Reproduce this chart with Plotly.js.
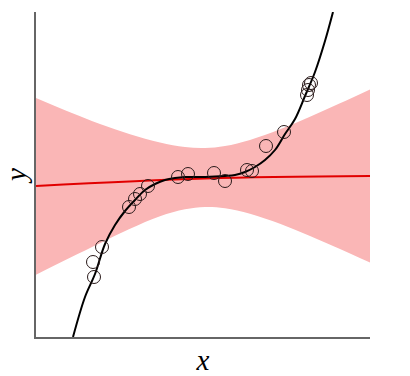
<!DOCTYPE html>
<html>
<head>
<meta charset="utf-8">
<script src="https://cdn.plot.ly/plotly-3.0.1.min.js"></script>
<style>html,body{margin:0;padding:0;background:#fff;}#chart{width:410px;height:376px;}</style>
</head>
<body>
<div id="chart"></div>
<script>
// Observations (open circles)
const pointsX = [-1.11, -1.12, -1.03, -0.76, -0.70, -0.65, -0.57, -0.27, -0.17, 0.09, 0.20, 0.42, 0.47, 0.61, 0.79, 1.02, 1.03, 1.04, 1.06];
const pointsY = [-1.01, -0.86, -0.71, -0.31, -0.23, -0.18, -0.10, -0.01, 0.02, 0.03, -0.05, 0.06, 0.05, 0.30, 0.44, 0.81, 0.86, 0.91, 0.93];

// True function (black curve)
const curveX = [-1.32, -1.2, -1.1, -1.0, -0.9, -0.8, -0.7, -0.6, -0.5, -0.4, -0.3, -0.2, 0.0, 0.2, 0.3, 0.4, 0.5, 0.6, 0.7, 0.8, 0.9, 1.0, 1.1, 1.2, 1.28];
const curveY = [-1.61, -1.21, -0.98, -0.68, -0.49, -0.35, -0.24, -0.14, -0.08, -0.04, -0.02, -0.01, -0.01, 0.0, 0.01, 0.04, 0.09, 0.16, 0.26, 0.42, 0.57, 0.80, 1.04, 1.35, 1.64];

// Fitted mean (red line)
const meanX = [-1.69, 0.0, 1.65];
const meanY = [-0.10, -0.025, 0.0];

// Predictive band
const bandX = [-1.69, -1.35, -1.05, -0.75, -0.45, -0.20, 0.00, 0.20, 0.45, 0.75, 1.05, 1.35, 1.65];
const bandUpper = [0.781, 0.638, 0.520, 0.418, 0.335, 0.289, 0.280, 0.300, 0.361, 0.468, 0.593, 0.727, 0.866];
const bandLower = [-0.987, -0.818, -0.672, -0.528, -0.403, -0.333, -0.310, -0.322, -0.377, -0.478, -0.599, -0.729, -0.866];

const traces = [
  {x: bandX, y: bandUpper, type: 'scatter', mode: 'lines', line: {width: 0, shape: 'spline'}, hoverinfo: 'skip', showlegend: false},
  {x: bandX, y: bandLower, type: 'scatter', mode: 'lines', line: {width: 0, shape: 'spline'}, fill: 'tonexty', fillcolor: 'rgb(250,182,182)', hoverinfo: 'skip', showlegend: false},
  {x: meanX, y: meanY, type: 'scatter', mode: 'lines', line: {color: 'rgb(225,0,0)', width: 2, shape: 'spline'}, showlegend: false},
  {x: curveX, y: curveY, type: 'scatter', mode: 'lines', line: {color: '#000', width: 2, shape: 'spline'}, showlegend: false},
  {x: pointsX, y: pointsY, type: 'scatter', mode: 'markers', marker: {symbol: 'circle-open', size: 13, color: '#2a1a1a', line: {width: 1, color: '#2a1a1a'}}, showlegend: false}
];

const layout = {
  width: 410, height: 376,
  margin: {l: 36, r: 40, t: 12, b: 39},
  paper_bgcolor: '#fff', plot_bgcolor: '#fff',
  showlegend: false,
  xaxis: {
    range: [-1.69, 1.65], showgrid: false, zeroline: false, showticklabels: false, ticks: '',
    showline: true, linecolor: '#666', linewidth: 2, automargin: false,
    title: {text: '<i>x</i>', font: {family: 'Liberation Serif, DejaVu Serif, serif', size: 29, color: '#000'}, standoff: 12}
  },
  yaxis: {
    range: [-1.61, 1.64], showgrid: false, zeroline: false, showticklabels: false, ticks: '',
    showline: true, linecolor: '#666', linewidth: 2, automargin: false,
    title: {text: '<i>y</i>', font: {family: 'Liberation Serif, DejaVu Serif, serif', size: 29, color: '#000'}, standoff: 16}
  }
};

Plotly.newPlot('chart', traces, layout, {displayModeBar: false, staticPlot: true});
</script>
</body>
</html>
